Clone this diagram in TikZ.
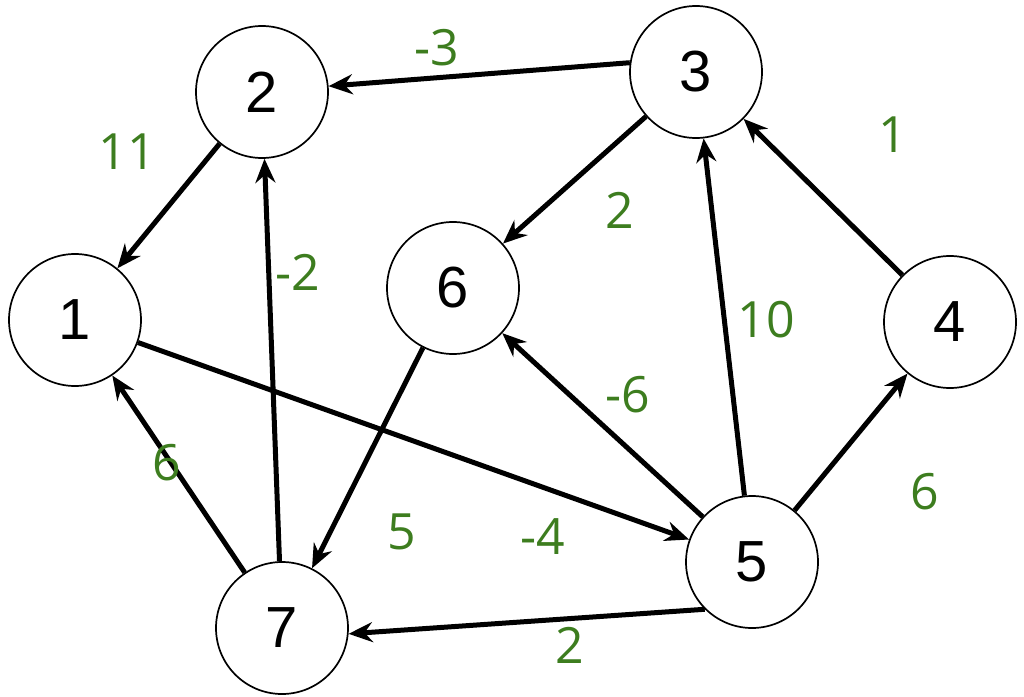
\documentclass[tikz,border=0pt]{standalone}
\usepackage{fontspec}
\setmainfont{Liberation Sans}
\newfontfamily\lblfont{Open Sans}
\usetikzlibrary{arrows.meta}
\definecolor{lg}{RGB}{61,125,31}
\begin{document}
\begin{tikzpicture}[x=1pt,y=-1pt,
  v/.style={circle,draw,line width=1.7pt,minimum size=132pt,inner sep=0pt,font=\fontsize{58}{58}\selectfont},
  e/.style={line width=5pt,-{Stealth[length=24pt,width=20pt,inset=8pt]}},
  l/.style={text=lg,font=\lblfont\fontsize{50}{50}\selectfont}]
\useasboundingbox (0,0) rectangle (1024,696);
\node[v] (n1) at (75,320) {1};
\node[v] (n2) at (262,92) {2};
\node[v] (n3) at (696,72) {3};
\node[v] (n4) at (950,322) {4};
\node[v] (n5) at (752,562) {5};
\node[v] (n6) at (453,288) {6};
\node[v] (n7) at (282,628) {7};
\draw[e] (n3.172) -- (n2.5);
\draw[e] (n2) -- (n1);
\draw[e] (n7) -- (n2);
\draw[e] (n3) -- (n6);
\draw[e] (n5) -- (n3);
\draw[e] (n4) -- (n3);
\draw[e] (n5) -- (n6);
\draw[e] (n1) -- (n5);
\draw[e] (n6) -- (n7);
\draw[e] (n7) -- (n1);
\draw[e] (n5) -- (n4);
\draw[e] (n5.225) -- (n7.355);
\node[l] (a) at (437,48) {-3};
\node[l] (b) at (127,152) {11};
\node[l] (c) at (298,272) {-2};
\node[l] (d) at (620,210) {2};
\node[l] (f) at (766,320) {10};
\node[l] (g) at (893,135) {1};
\node[l] (h) at (628,395) {-6};
\node[l] (i) at (543,537) {-4};
\node[l] (j) at (402,532) {5};
\node[l] (k) at (167,463) {6};
\node[l] (m) at (925,492) {6};
\node[l] (o) at (570,645) {2};
\end{tikzpicture}
\end{document}
